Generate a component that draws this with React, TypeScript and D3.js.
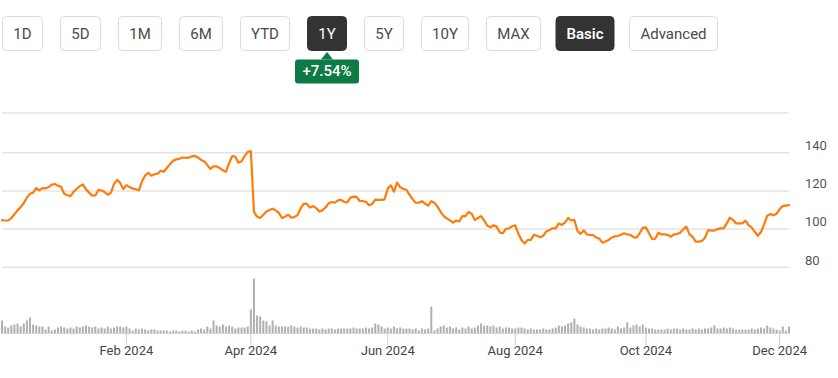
import React, { useMemo } from "react";
import * as d3 from "d3";

const rangeButtons = ["1D", "5D", "1M", "6M", "YTD", "1Y", "5Y", "10Y", "MAX"];
const modeButtons = ["Basic", "Advanced"];
const activeRange = "1Y";
const activeMode = "Basic";
const changeLabel = "+7.54%";

const startDate = "2023-12-04";
const endDate = "2024-12-05";
const holidays = [
  "2023-12-25", "2024-01-01", "2024-01-15", "2024-02-19", "2024-03-29",
  "2024-05-27", "2024-06-19", "2024-07-04", "2024-09-02", "2024-11-28",
];

const closes = [
  104.7, 104.5, 104.5, 105.8, 107.8, 109.8, 111.5, 113.5, 116.5, 118.5,
  119.1, 121.5, 120.3, 121.5, 121.3, 122, 123.3, 123.6, 122.6, 122.2,
  118.5, 117.7, 117.3, 119.5, 121, 122.5, 123.4, 120.8, 119.1, 117.5,
  117.6, 120.5, 120.2, 119.4, 118, 119, 123.5, 125.8, 124.2, 121,
  123, 122, 121.2, 120.9, 120.3, 125, 128, 129.5, 128, 128.7,
  129, 130.5, 130, 132, 134, 135.8, 136.5, 136.8, 137.5, 137.3,
  137.4, 138.1, 138.3, 137.5, 136.2, 135.5, 133.5, 131.5, 132.8, 132.8,
  132, 130.8, 130, 134.5, 138.2, 138, 134.8, 135.5, 138.2, 140.4,
  140.8, 109, 106.5, 105.8, 107.5, 109.2, 110, 110.7, 109.8, 108.5,
  105.8, 106.5, 107.5, 106, 106.3, 107.4, 110.8, 113.3, 113.2, 111.3,
  112, 111, 109.2, 109.8, 111.3, 113.5, 114.2, 113.9, 115, 115.3,
  114.2, 114, 116.5, 117, 116.9, 114.7, 114.6, 114.3, 112.5, 113.2,
  115.4, 115.3, 115.3, 115.6, 121.2, 122.9, 119.6, 124.3, 122, 121,
  120.6, 118, 115.6, 113.8, 113.8, 114.6, 113.3, 112.3, 114.6, 113.8,
  111.8, 109, 106.8, 105.6, 104.6, 103.4, 104.5, 104, 106.8, 106.8,
  109, 108, 104.7, 105.8, 106.8, 104.5, 101.8, 100.9, 102, 101.3,
  98.3, 97.8, 100.2, 100.4, 101.5, 102, 97.6, 94.3, 92.5, 94.3,
  94.4, 97, 96.5, 95.7, 96.5, 98.8, 99.5, 100.4, 100.4, 103,
  102.2, 103.5, 105.8, 104.5, 104.8, 99, 97.5, 99.3, 97.2, 96.9,
  96.9, 95.6, 95, 92.9, 93.5, 94.3, 95.5, 96.2, 96.4, 97,
  97.8, 97.2, 96.9, 95.8, 95.5, 97.8, 100.7, 100.9, 97.8, 94.8,
  95, 98.1, 97.2, 97.2, 97, 96, 97.2, 97.4, 98.1, 99.9,
  101.3, 97.2, 96, 93.4, 93.4, 93.8, 95.5, 99.5, 99.2, 99.2,
  100, 100.4, 100.4, 103, 106, 104.7, 103, 103, 103, 104.4,
  102.1, 100.9, 98.6, 96.5, 98.5, 102.5, 107, 107.9, 107.2, 108,
  110.5, 112, 112.3, 112.6,
];

const volumes = [
  13, 7, 6, 8, 9, 10, 7, 10, 13, 16,
  9, 8, 7, 7, 4, 7, 3, 4, 6, 7,
  6, 5, 6, 5, 7, 6, 7, 8, 7, 6,
  7, 5, 6, 5, 7, 5, 6, 7, 7, 6,
  7, 5, 3, 5, 4, 5, 4, 3, 4, 4,
  3, 3, 3, 3, 2, 3, 3, 2, 3, 3,
  2, 3, 2, 4, 5, 4, 7, 5, 13, 8,
  7, 9, 7, 8, 7, 5, 6, 6, 6, 7,
  24, 55, 18, 17, 13, 12, 8, 13, 8, 7,
  7, 7, 7, 8, 7, 6, 7, 6, 6, 5,
  5, 5, 4, 5, 4, 5, 5, 4, 5, 5,
  5, 5, 5, 6, 5, 5, 5, 6, 5, 6,
  10, 9, 7, 5, 6, 5, 7, 5, 6, 5,
  5, 5, 4, 5, 3, 5, 4, 5, 27, 3,
  5, 7, 8, 6, 7, 5, 6, 4, 6, 5,
  7, 5, 6, 8, 10, 8, 8, 7, 8, 6,
  7, 5, 6, 6, 5, 5, 6, 6, 5, 4,
  5, 4, 4, 4, 5, 4, 4, 5, 6, 8,
  7, 8, 10, 11, 15, 9, 7, 6, 5, 5,
  4, 5, 4, 5, 5, 6, 5, 4, 7, 5,
  6, 11, 6, 8, 9, 7, 9, 6, 5, 5,
  4, 4, 4, 4, 5, 4, 5, 5, 4, 5,
  4, 4, 5, 4, 5, 4, 5, 5, 6, 8,
  5, 5, 6, 5, 6, 5, 4, 4, 4, 4,
  4, 5, 4, 5, 6, 5, 8, 6, 5, 4,
  3, 7, 3, 7,
];

const yTicks = [80, 100, 120, 140];
const xTickMonths = ["2024-02", "2024-04", "2024-06", "2024-08", "2024-10", "2024-12"];

const FONT = "Roboto, 'Noto Sans', Arial, sans-serif";

function measure(text: string, size: number, weight: number | string) {
  const c = document.createElement("canvas").getContext("2d");
  if (!c) return text.length * size * 0.55;
  c.font = `${weight} ${size}px Roboto`;
  return c.measureText(text).width;
}

export default function App() {
  const W = 838;
  const H = 378;
  const plotLeft = 2;
  const plotRight = 789;

  const parse = d3.utcParse("%Y-%m-%d");
  const fmtDay = d3.utcFormat("%Y-%m-%d");
  const fmtMonth = d3.utcFormat("%Y-%m");
  const fmtLabel = d3.utcFormat("%b %Y");

  const dates = useMemo(() => {
    const s = parse(startDate) as Date;
    const e = parse(endDate) as Date;
    const hs = new Set(holidays);
    return d3.utcDay
      .range(s, d3.utcDay.offset(e, 1))
      .filter((d) => d.getUTCDay() !== 0 && d.getUTCDay() !== 6 && !hs.has(fmtDay(d)));
  }, []);

  const n = closes.length;
  const x = d3.scaleLinear().domain([0, n - 1]).range([plotLeft, plotRight]);
  const y = d3.scaleLinear().domain([80, 140]).range([267.3, 152.7]);
  const vBase = 333.5;
  const v = d3.scaleLinear().domain([0, d3.max(volumes) as number]).range([vBase, 278.5]);

  const linePath = d3
    .line<number>()
    .x((_, i) => x(i))
    .y((d) => y(d))(closes) as string;

  const ticks = xTickMonths
    .map((m) => {
      const idx = dates.findIndex((d) => fmtMonth(d) === m);
      if (idx < 0) return null;
      return { idx, label: fmtLabel(dates[idx]) };
    })
    .filter(Boolean) as { idx: number; label: string }[];

  // button layout
  const pad = 10.7;
  const gap = 18;
  const modeGap = 15.5;
  const buttons: { label: string; x: number; w: number; active: boolean; weight: number }[] = [];
  let bx = 2.5;
  const layout = (labels: string[], g: number, first: boolean) => {
    labels.forEach((label, k) => {
      if (!(first && k === 0)) bx += k === 0 ? g : 0;
      const active = label === activeRange || label === activeMode;
      const weight = label === activeMode ? 600 : 400;
      const tw = measure(label, 15, weight);
      const w = Math.round(tw + pad * 2);
      buttons.push({ label, x: bx, w, active, weight });
      bx += w + (k < labels.length - 1 ? g : 0);
    });
  };
  layout(rangeButtons, gap, true);
  layout(modeButtons, modeGap, false);

  const activeBtn = buttons.find((b) => b.label === activeRange)!;
  const badgeCx = activeBtn.x + activeBtn.w / 2;
  const badgeW = 64;

  return (
    <svg
      width={W}
      height={H}
      style={{ position: "absolute", left: 0, top: 0, background: "#fff" }}
      fontFamily={FONT}
    >
      {buttons.map((b) => (
        <g key={b.label}>
          <rect
            x={b.x}
            y={16.5}
            width={b.w}
            height={34}
            rx={4}
            fill={b.active ? "#333333" : "#ffffff"}
            stroke={b.active ? "#333333" : "#dcdcdc"}
            strokeWidth={1}
          />
          <text
            x={b.x + b.w / 2}
            y={38.5}
            textAnchor="middle"
            fontSize={15}
            fontWeight={b.weight}
            fill={b.active ? "#ffffff" : "#4a4a4a"}
          >
            {b.label}
          </text>
        </g>
      ))}

      <g>
        <path
          d={`M${badgeCx - 6},59.5 L${badgeCx},52 L${badgeCx + 6},59.5 Z`}
          fill="#0e7a45"
        />
        <rect x={badgeCx - badgeW / 2} y={59.5} width={badgeW} height={24} rx={3} fill="#0e7a45" />
        <text x={badgeCx} y={76} textAnchor="middle" fontSize={15} fontWeight={500} fill="#ffffff">
          {changeLabel}
        </text>
      </g>

      <line x1={plotLeft} x2={plotRight} y1={113} y2={113} stroke="#e3e3e3" strokeWidth={1.5} />
      {yTicks.map((t) => (
        <g key={t}>
          <line x1={plotLeft} x2={plotRight} y1={y(t)} y2={y(t)} stroke="#e3e3e3" strokeWidth={1.5} />
          <text x={805} y={y(t) - 2.8} fontSize={13} fill="#555">
            {t}
          </text>
        </g>
      ))}

      <path d={linePath} fill="none" stroke="#ff7b0a" strokeWidth={2.2} strokeLinejoin="round" strokeLinecap="round" />

      {volumes.map((vol, i) => (
        <rect key={i} x={x(i) - 1} y={v(vol)} width={2} height={vBase - v(vol)} fill="#b0b0b0" />
      ))}
      <line x1={plotLeft} x2={790} y1={vBase} y2={vBase} stroke="#d6d6d6" strokeWidth={1} />

      {ticks.map((t) => (
        <g key={t.label}>
          <line x1={x(t.idx)} x2={x(t.idx)} y1={vBase} y2={345} stroke="#cfcfcf" strokeWidth={1} />
          <text x={x(t.idx)} y={355} textAnchor="middle" fontSize={13} fill="#444">
            {t.label}
          </text>
        </g>
      ))}
    </svg>
  );
}
